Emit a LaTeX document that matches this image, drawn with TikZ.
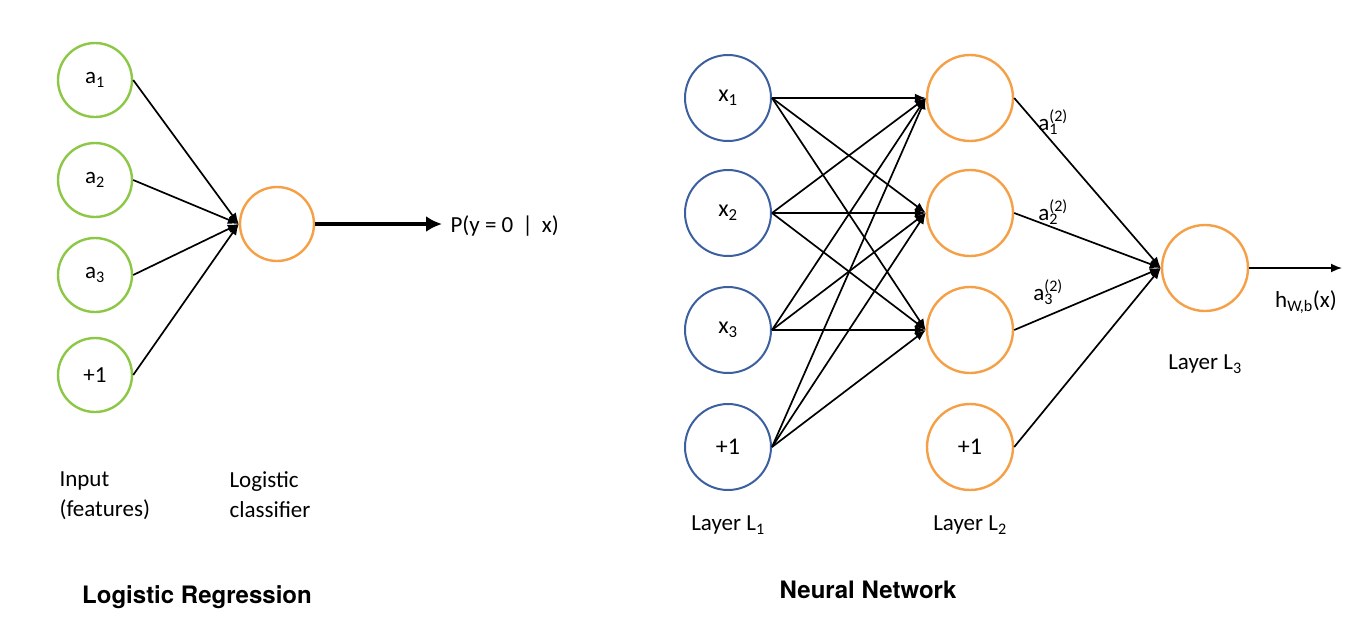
\documentclass[tikz,border=0pt]{standalone}
\usepackage{fontspec}
\setmainfont{Carlito}
\newfontfamily\titlefont{TeX Gyre Heros}
\usetikzlibrary{arrows.meta}
\definecolor{gr}{RGB}{140,200,70}
\definecolor{og}{RGB}{245,160,70}
\definecolor{bl}{RGB}{60,95,160}
\newcommand{\ssub}[1]{\textsubscript{#1}}
\newcommand{\asup}[1]{a\rlap{\textsuperscript{(2)}}\textsubscript{#1}\hspace{1.2em}}
\begin{document}
\begin{tikzpicture}[x=1pt,y=-1pt,
  g/.style={circle,draw=gr,line width=2.4pt,minimum size=74pt,inner sep=0,font=\fontsize{23}{25}\selectfont},
  o/.style={circle,draw=og,line width=2.4pt,minimum size=86pt,inner sep=0,font=\fontsize{24}{26}\selectfont},
  b/.style={circle,draw=bl,line width=2pt,minimum size=86pt,inner sep=0,font=\fontsize{24}{26}\selectfont},
  e/.style={line width=1.7pt,-{Latex[length=11pt,width=9pt]}},
  lb/.style={font=\fontsize{23}{30}\selectfont,align=left},
  tt/.style={font=\titlefont\bfseries\fontsize{24}{26}\selectfont}]
\useasboundingbox (0,0) rectangle (1358,633);
% Logistic regression
\node[g] (a1) at (95,80) {a\ssub{1}};
\node[g] (a2) at (95,180) {a\ssub{2}};
\node[g] (a3) at (95,275) {a\ssub{3}};
\node[g] (a4) at (95,375) {+1};
\node[o,minimum size=74pt] (lc) at (277,224) {};
\foreach \n in {a1,a2,a3,a4} \draw[e] (\n.east) -- (lc.west);
\coordinate (pout) at (442,224);
\draw[line width=3.5pt,-{Latex[length=16pt,width=16pt]}] (lc.east) -- (pout);
\node[lb,anchor=west] (py) at (447,226) {P(y = 0\, |\, x)};
\node[lb,anchor=north west] (inp) at (56,468) {Input\\(features)};
\node[lb,anchor=north west] (lcl) at (226,468) {Logistic\\classifier};
\node[tt] (t1) at (197,597) {Logistic Regression};
% Neural network
\node[b] (x1) at (728,98) {x\ssub{1}};
\node[b] (x2) at (728,213) {x\ssub{2}};
\node[b] (x3) at (728,330) {x\ssub{3}};
\node[b] (x4) at (728,447) {+1};
\node[o] (h1) at (970,98) {};
\node[o] (h2) at (970,213) {};
\node[o] (h3) at (970,330) {};
\node[o] (h4) at (970,447) {+1};
\node[o] (y) at (1205,268) {};
\foreach \i in {x1,x2,x3,x4}
  \foreach \j in {h1,h2,h3}
    \draw[e] (\i.east) -- (\j.west);
\foreach \j in {h1,h2,h3,h4} \draw[e] (\j.east) -- (y.west);
\coordinate (yout) at (1342,268);
\draw[e] (y.east) -- (yout);
\node[lb] (l1) at (1062,122) {\asup{1}};
\node[lb] (l2) at (1062,212) {\asup{2}};
\node[lb] (l3) at (1057,292) {\asup{3}};
\node[lb] (hw) at (1306,302) {h\ssub{W,b}(x)};
\node[lb] (L1) at (728,525) {Layer L\ssub{1}};
\node[lb] (L2) at (970,525) {Layer L\ssub{2}};
\node[lb] (L3) at (1205,364) {Layer L\ssub{3}};
\node[tt] (t2) at (868,590) {Neural Network};
\end{tikzpicture}
\end{document}
